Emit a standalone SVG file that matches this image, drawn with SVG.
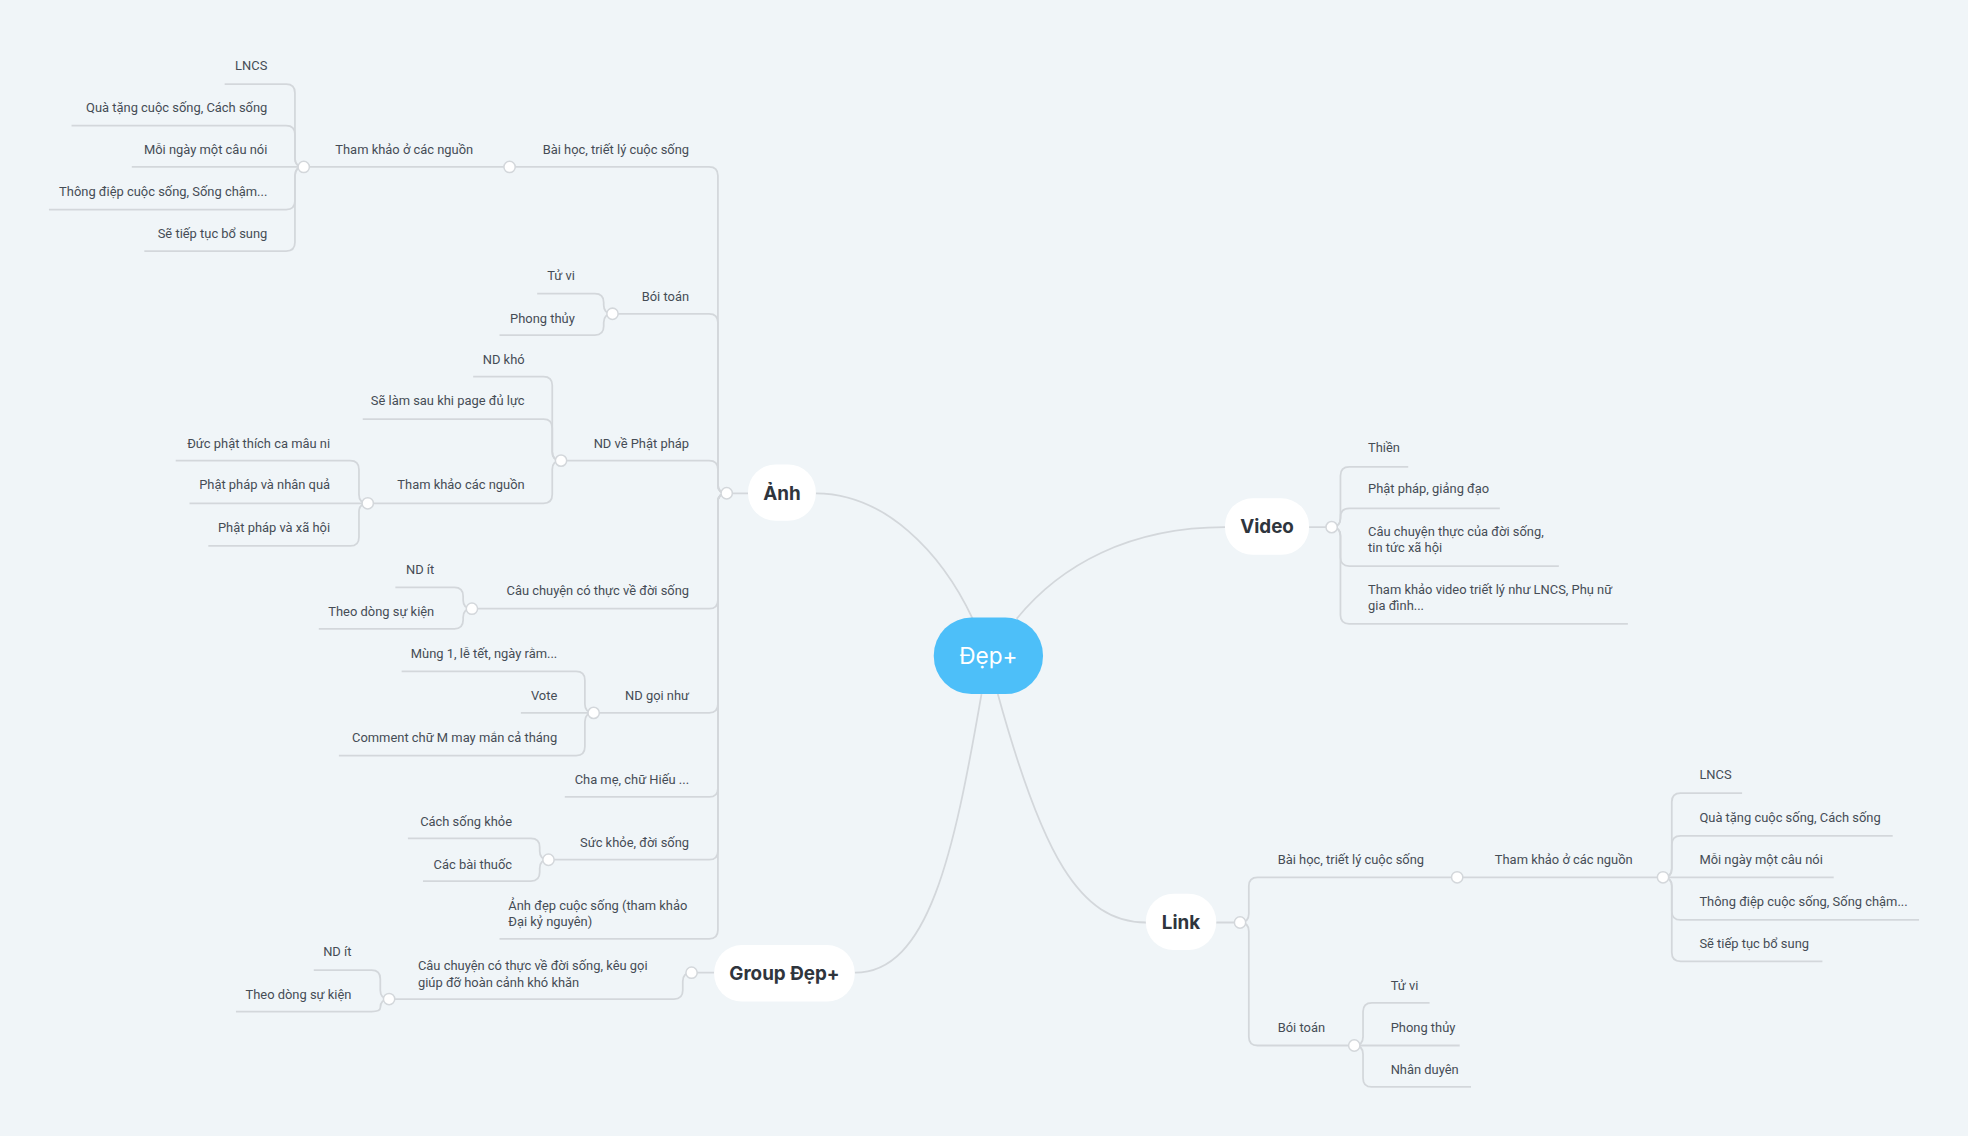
<svg xmlns="http://www.w3.org/2000/svg" width="1968" height="1136" viewBox="0 0 1968 1136">
<style>
.l{fill:none;stroke:#d3d7db;stroke-width:1.4}
.c{fill:#fff;stroke:#d3d7db;stroke-width:1.2}
.t{font-family:Roboto,"Noto Sans",sans-serif;font-size:10.3px;fill:#454c55}
.e{text-anchor:end}
.n{fill:#fff}
.nt{font-family:Inter,"Noto Sans",sans-serif;font-size:15px;font-weight:700;fill:#2f353d;text-anchor:middle}
</style>
<rect width="1968" height="1136" fill="#f0f5f8"/>
<g transform="scale(1.2551)">
<g id="connectors">
<path class="l" d="M775 493 C750 440 705 393 650 393"/>
<path class="l" d="M810 493 C845 450 900 420 976 420"/>
<path class="l" d="M795 553 C830 680 860 735 913 735"/>
<path class="l" d="M782 553 C760 680 740 775 681 775"/>
<path class="l" d="M579 393 H596 M1043 420 H1061 M969 735 H988 M551 775 H569"/>
<!-- Anh -->
<path class="l" d="M406 133 H565 Q572 133 572 140 V386 Q572 393 579 393"/>
<path class="l" d="M488 250 H565 Q572 250 572 257 V386 Q572 393 579 393"/>
<path class="l" d="M447 367 H565 Q572 367 572 374 V386 Q572 393 579 393"/>
<path class="l" d="M376 485 H565 Q572 485 572 478 V400 Q572 393 579 393"/>
<path class="l" d="M473 568 H565 Q572 568 572 561 V400 Q572 393 579 393"/>
<path class="l" d="M450 635 H565 Q572 635 572 628 V400 Q572 393 579 393"/>
<path class="l" d="M437 685 H565 Q572 685 572 678 V400 Q572 393 579 393"/>
<path class="l" d="M398 748 H565 Q572 748 572 741 V400 Q572 393 579 393"/>
<path class="l" d="M242 133 H406"/>
<path class="l" d="M179 67 H228 Q235 67 235 74 V126 Q235 133 242 133"/>
<path class="l" d="M57 100 H228 Q235 100 235 107 V126 Q235 133 242 133"/>
<path class="l" d="M105 133 H242"/>
<path class="l" d="M39 167 H228 Q235 167 235 160 V140 Q235 133 242 133"/>
<path class="l" d="M115 200 H228 Q235 200 235 193 V140 Q235 133 242 133"/>
<path class="l" d="M428 234 H474 Q481 234 481 241 V243 Q481 250 488 250"/>
<path class="l" d="M398 267 H474 Q481 267 481 260 V257 Q481 250 488 250"/>
<path class="l" d="M377 300 H433 Q440 300 440 307 V360 Q440 367 447 367"/>
<path class="l" d="M289 334 H433 Q440 334 440 341 V360 Q440 367 447 367"/>
<path class="l" d="M293 401 H433 Q440 401 440 394 V374 Q440 367 447 367"/>
<path class="l" d="M140 367 H279 Q286 367 286 374 V394 Q286 401 293 401"/>
<path class="l" d="M151 401 H293"/>
<path class="l" d="M166 435 H279 Q286 435 286 428 V408 Q286 401 293 401"/>
<path class="l" d="M315 468 H362 Q369 468 369 475 V478 Q369 485 376 485"/>
<path class="l" d="M254 501 H362 Q369 501 369 494 V492 Q369 485 376 485"/>
<path class="l" d="M320 535 H459 Q466 535 466 542 V561 Q466 568 473 568"/>
<path class="l" d="M415 568 H473"/>
<path class="l" d="M270 602 H459 Q466 602 466 595 V575 Q466 568 473 568"/>
<path class="l" d="M325 668 H423 Q430 668 430 675 V678 Q430 685 437 685"/>
<path class="l" d="M337 702 H423 Q430 702 430 695 V692 Q430 685 437 685"/>
<!-- Group -->
<path class="l" d="M310 796 H537 Q544 796 544 789 V782 Q544 775 551 775"/>
<path class="l" d="M250 773 H296 Q303 773 303 780 V789 Q303 796 310 796"/>
<path class="l" d="M188 806 H296 Q303 806 303 803 Q303 796 310 796"/>
<!-- Video -->
<path class="l" d="M1061 420 Q1068 420 1068 413 V379 Q1068 372 1075 372 H1122"/>
<path class="l" d="M1061 420 Q1068 420 1068 413 V412 Q1068 405 1075 405 H1195"/>
<path class="l" d="M1061 420 Q1068 420 1068 427 V444 Q1068 451 1075 451 H1242"/>
<path class="l" d="M1061 420 Q1068 420 1068 427 V490 Q1068 497 1075 497 H1297"/>
<!-- Link -->
<path class="l" d="M988 735 Q995 735 995 728 V706 Q995 699 1002 699 H1161"/>
<path class="l" d="M988 735 Q995 735 995 742 V826 Q995 833 1002 833 H1079"/>
<path class="l" d="M1161 699 H1325"/>
<path class="l" d="M1325 699 Q1332 699 1332 692 V639 Q1332 632 1339 632 H1388"/>
<path class="l" d="M1325 699 Q1332 699 1332 692 V673 Q1332 666 1339 666 H1508"/>
<path class="l" d="M1325 699 H1461"/>
<path class="l" d="M1325 699 Q1332 699 1332 706 V726 Q1332 733 1339 733 H1529"/>
<path class="l" d="M1325 699 Q1332 699 1332 706 V759 Q1332 766 1339 766 H1452"/>
<path class="l" d="M1079 833 Q1086 833 1086 826 V806 Q1086 799 1093 799 H1139"/>
<path class="l" d="M1079 833 H1163"/>
<path class="l" d="M1079 833 Q1086 833 1086 840 V859 Q1086 866 1093 866 H1172"/>
<g>
<circle class="c" cx="579" cy="393" r="4.5"/><circle class="c" cx="406" cy="133" r="4.5"/><circle class="c" cx="242" cy="133" r="4.5"/>
<circle class="c" cx="488" cy="250" r="4.5"/><circle class="c" cx="447" cy="367" r="4.5"/><circle class="c" cx="293" cy="401" r="4.5"/>
<circle class="c" cx="376" cy="485" r="4.5"/><circle class="c" cx="473" cy="568" r="4.5"/><circle class="c" cx="437" cy="685" r="4.5"/>
<circle class="c" cx="551" cy="775" r="4.5"/><circle class="c" cx="310" cy="796" r="4.5"/>
<circle class="c" cx="1061" cy="420" r="4.5"/><circle class="c" cx="988" cy="735" r="4.5"/><circle class="c" cx="1161" cy="699" r="4.5"/>
<circle class="c" cx="1325" cy="699" r="4.5"/><circle class="c" cx="1079" cy="833" r="4.5"/>
</g>
</g>
<g id="root"><rect x="744" y="492" width="87" height="61" rx="30" fill="#4dbff9"/><text x="787.5" y="529" font-family="Inter,'Noto Sans',sans-serif" font-size="18" fill="#fff" text-anchor="middle">Đẹp+</text></g>
<g id="anh"><rect class="n" x="596" y="370" width="54" height="45" rx="22"/><text class="nt" x="623" y="398">Ảnh</text></g>
<g id="video"><rect class="n" x="976" y="397" width="67" height="45" rx="22"/><text class="nt" x="1009.5" y="425">Video</text></g>
<g id="link"><rect class="n" x="913" y="712" width="56" height="45" rx="22"/><text class="nt" x="941" y="740">Link</text></g>
<g id="group"><rect class="n" x="569" y="753" width="112" height="45" rx="22"/><text class="nt" x="625" y="781">Group Đẹp+</text></g>
<g id="anh-children">
<text class="t e" x="549" y="123">Bài học, triết lý cuộc sống</text>
<text class="t e" x="377" y="123">Tham khảo ở các nguồn</text>
<text class="t e" x="213" y="56">LNCS</text>
<text class="t e" x="213" y="89">Quà tặng cuộc sống, Cách sống</text>
<text class="t e" x="213" y="123">Mỗi ngày một câu nói</text>
<text class="t e" x="213" y="156">Thông điệp cuộc sống, Sống chậm...</text>
<text class="t e" x="213" y="190">Sẽ tiếp tục bổ sung</text>
<text class="t e" x="549" y="240">Bói toán</text>
<text class="t e" x="458" y="223">Tử vi</text>
<text class="t e" x="458" y="257">Phong thủy</text>
<text class="t e" x="549" y="357">ND về Phật pháp</text>
<text class="t e" x="418" y="290">ND khó</text>
<text class="t e" x="418" y="323">Sẽ làm sau khi page đủ lực</text>
<text class="t e" x="418" y="390">Tham khảo các nguồn</text>
<text class="t e" x="263" y="357">Đức phật thích ca mâu ni</text>
<text class="t e" x="263" y="390">Phật pháp và nhân quả</text>
<text class="t e" x="263" y="424">Phật pháp và xã hội</text>
<text class="t e" x="549" y="474">Câu chuyện có thực về đời sống</text>
<text class="t e" x="346" y="457">ND ít</text>
<text class="t e" x="346" y="491">Theo dòng sự kiện</text>
<text class="t e" x="549" y="558">ND gọi như</text>
<text class="t e" x="444" y="524">Mùng 1, lễ tết, ngày rằm...</text>
<text class="t e" x="444" y="558">Vote</text>
<text class="t e" x="444" y="591">Comment chữ M may mắn cả tháng</text>
<text class="t e" x="549" y="625">Cha mẹ, chữ Hiếu ...</text>
<text class="t e" x="549" y="675">Sức khỏe, đời sống</text>
<text class="t e" x="408" y="658">Cách sống khỏe</text>
<text class="t e" x="408" y="692">Các bài thuốc</text>
<text class="t" x="405" y="725">Ảnh đẹp cuộc sống (tham khảo</text>
<text class="t" x="405" y="738">Đại kỷ nguyên)</text>
</g>
<g id="group-children">
<text class="t" x="333" y="773">Câu chuyện có thực về đời sống, kêu gọi</text>
<text class="t" x="333" y="786">giúp đỡ hoàn cảnh khó khăn</text>
<text class="t e" x="280" y="762">ND ít</text>
<text class="t e" x="280" y="796">Theo dòng sự kiện</text>
</g>
<g id="video-children">
<text class="t" x="1090" y="360">Thiền</text>
<text class="t" x="1090" y="393">Phật pháp, giảng đạo</text>
<text class="t" x="1090" y="427">Câu chuyện thực của đời sống,</text>
<text class="t" x="1090" y="440"> tin tức xã hội</text>
<text class="t" x="1090" y="473">Tham khảo video triết lý như LNCS, Phụ nữ</text>
<text class="t" x="1090" y="486">gia đình...</text>
</g>
<g id="link-children">
<text class="t" x="1018" y="688">Bài học, triết lý cuộc sống</text>
<text class="t" x="1191" y="688">Tham khảo ở các nguồn</text>
<text class="t" x="1354" y="621">LNCS</text>
<text class="t" x="1354" y="655">Quà tặng cuộc sống, Cách sống</text>
<text class="t" x="1354" y="688">Mỗi ngày một câu nói</text>
<text class="t" x="1354" y="722">Thông điệp cuộc sống, Sống chậm...</text>
<text class="t" x="1354" y="755">Sẽ tiếp tục bổ sung</text>
<text class="t" x="1018" y="822">Bói toán</text>
<text class="t" x="1108" y="789">Tử vi</text>
<text class="t" x="1108" y="822">Phong thủy</text>
<text class="t" x="1108" y="856">Nhân duyên</text>
</g>
</g>
</svg>
